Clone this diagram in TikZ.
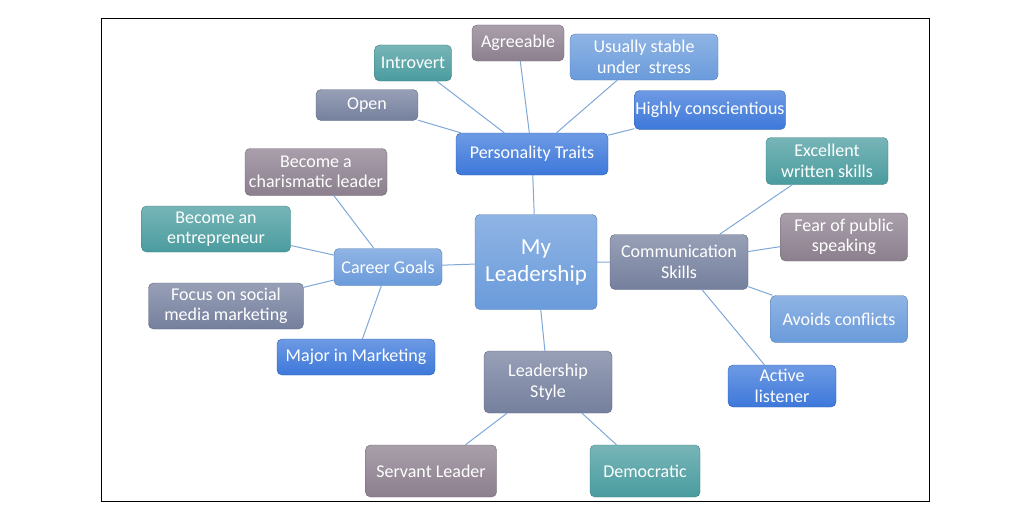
\documentclass[tikz,border=0pt]{standalone}
\usepackage{fontspec}
\setmainfont{Carlito}
\begin{document}
\begin{tikzpicture}[x=1pt,y=-1pt,
 box/.style={rounded corners=5pt,align=center,text=white,font=\fontsize{18}{20.5}\selectfont,inner sep=0pt,draw=#1!80!black,line width=0.4pt,top color=#1!75!white,bottom color=#1},
 e/.style={draw=edgec,line width=1pt}]
\definecolor{cblue}{HTML}{3D78DA}
\definecolor{clight}{HTML}{6A9BDB}
\definecolor{cslate}{HTML}{75809E}
\definecolor{cteal}{HTML}{4A9C9F}
\definecolor{cmauve}{HTML}{8C7F8E}
\definecolor{edgec}{HTML}{7FA8D8}
\useasboundingbox (0,0) rectangle (1024,511);
\draw[line width=0.8pt] (101,18) rectangle (929,501);
\newcommand\bx[6]{\node[box=#6,minimum width=#3,minimum height=#4] (#1) at (#2) {#5};}
\bx{ml}{536,262}{122pt}{95pt}{}{clight}
\node[font=\fontsize{23}{27}\selectfont,text=white,align=center] at (ml) {My\\Leadership};
\bx{pt}{532,154}{152pt}{42pt}{Personality Traits}{cblue}
\bx{op}{367,105}{102pt}{31pt}{Open}{cslate}
\bx{in}{413,63}{77pt}{36pt}{Introvert}{cteal}
\bx{ag}{518,43}{92pt}{36pt}{Agreeable}{cmauve}
\bx{us}{644,57}{148pt}{46pt}{Usually stable\\under\ \ stress}{clight}
\bx{hc}{710,110}{151pt}{39pt}{Highly conscientious}{cblue}
\bx{cs}{679,262}{138pt}{55pt}{Communication\\Skills}{cslate}
\bx{ew}{827,161}{122pt}{47pt}{Excellent\\written skills}{cteal}
\bx{fp}{844,237}{127pt}{48pt}{Fear of public\\speaking}{cmauve}
\bx{ac}{839,319}{137pt}{47pt}{Avoids conflicts}{clight}
\bx{al}{782,386}{108pt}{42pt}{Active\\listener}{cblue}
\bx{ls}{548,382}{128pt}{62pt}{Leadership\\Style}{cslate}
\bx{sl}{431,471}{131pt}{52pt}{Servant Leader}{cmauve}
\bx{de}{645,471}{110pt}{52pt}{Democratic}{cteal}
\bx{cg}{388,267}{108pt}{37pt}{Career Goals}{clight}
\bx{bc}{316,172}{142pt}{47pt}{Become a\\charismatic leader}{cmauve}
\bx{be}{216,229}{149pt}{46pt}{Become an\\entrepreneur}{cteal}
\bx{fs}{226,306}{155pt}{46pt}{Focus on social\\media marketing}{cslate}
\bx{mm}{356,357}{158pt}{36pt}{Major in Marketing}{cblue}
\path[e] (ml) -- (pt) (ml) -- (cs) (ml) -- (ls) (ml) -- (cg)
 (pt) -- (op) (pt) -- (in) (pt) -- (ag) (pt) -- (us) (pt) -- (hc)
 (cs) -- (ew) (cs) -- (fp) (cs) -- (ac) (cs) -- (al)
 (ls) -- (sl) (ls) -- (de)
 (cg) -- (bc) (cg) -- (be) (cg) -- (fs) (cg) -- (mm);
\end{tikzpicture}
\end{document}
